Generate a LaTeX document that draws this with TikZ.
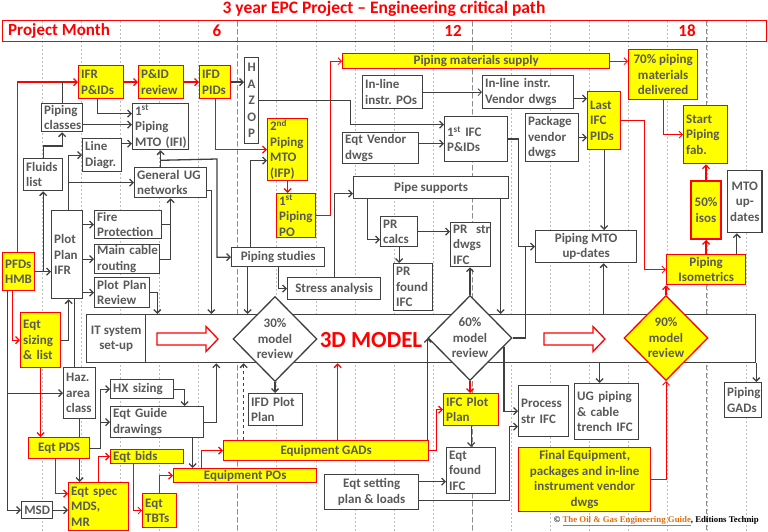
\documentclass[tikz,border=0pt]{standalone}
\usepackage{fontspec}
\setmainfont{Carlito}
\newfontfamily\creditfont{Liberation Serif}
\usetikzlibrary{arrows.meta,calc,shapes.geometric}
\definecolor{ink}{RGB}{89,89,89}
\definecolor{edge}{RGB}{64,64,64}
\definecolor{crit}{RGB}{255,0,0}
\definecolor{hilite}{RGB}{255,255,0}
\definecolor{gridsoft}{RGB}{190,190,190}
\definecolor{gridmonth}{RGB}{140,140,140}
\definecolor{orng}{RGB}{228,108,10}
\newcommand\boxfont{\fontsize{13}{15.5}\selectfont\bfseries\frenchspacing\hyphenpenalty=10000 }
\pgfdeclarelayer{grid}
\pgfdeclarelayer{band}
\pgfdeclarelayer{edges}
\pgfsetlayers{grid,band,edges,main}
\tikzset{
  box/.style={draw=edge, fill=white, line width=1.3pt, inner xsep=2.5pt, inner ysep=0pt, anchor=north west, font=\boxfont, text=ink, align=left},
  cbox/.style={box, align=center},
  hot/.style={box, fill=hilite, draw=crit},
  chot/.style={hot, align=center},
  gate/.style={diamond, draw=edge, fill=white, line width=1.3pt, minimum width=84pt, minimum height=85pt, inner sep=0pt, align=center, font=\boxfont, text=ink},
  flow/.style={draw=edge, line width=1.3pt, -{Straight Barb[length=3.5pt,width=7pt]}},
  link/.style={draw=edge, line width=1.3pt},
  thinflow/.style={flow, line width=0.8pt},
  critflow/.style={draw=crit, line width=1.3pt, -{Straight Barb[length=3.5pt,width=7pt]}},
  critthin/.style={critflow, line width=0.8pt},
  hollow/.style={draw=crit, fill=white, line width=1.3pt},
  gridline/.style={draw=gridsoft, line width=0.6pt, dash pattern=on 2pt off 2pt},
  monthline/.style={draw=gridmonth, line width=1.2pt, dash pattern=on 5pt off 3pt},
  monthlbl/.style={font=\fontsize{17}{20}\selectfont\bfseries, text=crit, inner sep=0pt},
}

\begin{document}
\begin{tikzpicture}[x=1pt, y=-1pt]
  % page frame, in reference pixels
  \useasboundingbox (0,0) rectangle (768,532);

  % month grid
  \begin{pgfonlayer}{grid}
    \foreach \k in {1,...,19} {\draw[gridline] ({3+39.1*\k},21) -- ({3+39.1*\k},532);}
    \foreach \k in {6,12,18} {\draw[monthline] ({3+39.1*\k},21) -- ({3+39.1*\k},532);}
  \end{pgfonlayer}

  \node[font=\fontsize{17.5}{20}\selectfont\bfseries, text=crit] (title) at (384,9) {3 year EPC Project – Engineering critical path};
  \node[draw=crit, line width=1.3pt, minimum width=764pt, minimum height=21pt, anchor=north west, inner sep=0pt] (monthbar) at (2,20) {};
  \node[monthlbl, anchor=west] (pmonth) at (8,31) {Project Month};
  \node[monthlbl] (m6) at (217,31) {6};
  \node[monthlbl] (m12) at (453,31) {12};
  \node[monthlbl] (m18) at (687,31) {18};

  % 3D model band
  \begin{pgfonlayer}{band}
    \node[box, minimum width=669pt, minimum height=48pt] (band) at (86,314) {};
  \end{pgfonlayer}
  \node[cbox, minimum width=59pt, minimum height=48pt] (itsys) at (86,314) {IT system\\set-up};
  \node[font=\fontsize{23}{26}\selectfont\bfseries, text=crit] (modeltxt) at (371,340) {3D MODEL};
  \draw[hollow] (157,333) -- (206,333) -- (206,326.5) -- (218,339) -- (206,351.5) -- (206,345) -- (157,345) -- cycle;
  \draw[hollow] (544,333) -- (593,333) -- (593,326.5) -- (605,339) -- (593,351.5) -- (593,345) -- (544,345) -- cycle;
  \node[gate] (d30) at (275,339) {30\%\\model\\review};
  \node[gate] (d60) at (470,338) {60\%\\model\\review};
  \node[gate, fill=hilite, draw=crit] (d90) at (666,338) {90\%\\model\\review};

  % top rows
  \node[hot, text width=40pt, minimum height=33pt] (ifrpid) at (78,65) {IFR\\P\&IDs};
  \node[hot, text width=40pt, minimum height=33pt] (pidrev) at (138,65) {P\&ID\\review};
  \node[hot, text width=26pt, minimum height=33pt] (ifdpid) at (199,65) {IFD\\PIDs};
  \node[cbox, minimum width=14pt, minimum height=86pt, inner xsep=0pt] (hazop) at (244,57) {H\\[1pt]A\\[1pt]Z\\[1pt]O\\[1pt]P};
  \node[box, text width=36pt, minimum height=28pt] (pipcls) at (41,103) {Piping\\classes};
  \node[box, text width=51pt, minimum height=46pt] (mto1) at (132,103) {1\textsuperscript{st}\\Piping\\MTO~(IFI)};
  \node[box, text width=34pt, minimum height=33pt] (linediag) at (82,138) {Line\\Diagr.};
  \node[box, text width=34pt, minimum height=32pt] (fluids) at (23,158) {Fluids\\list};
  \node[box, text width=67pt, minimum height=30pt] (ugnet) at (134,167) {General~UG\\networks};
  \node[box, text width=26pt, minimum height=88pt] (plotplan) at (51,210) {Plot\\Plan\\IFR};
  \node[box, text width=62pt, minimum height=28pt] (fire) at (94,210) {Fire\\Protection};
  \node[box, text width=60pt, minimum height=29pt] (cable) at (94,244) {Main~cable\\routing};
  \node[box, text width=50pt, minimum height=30pt] (ppreview) at (94,277) {Plot~Plan\\Review};
  \node[hot, text width=27pt, minimum height=38pt] (pfd) at (2,252) {PFDs\\HMB};
  \node[hot, text width=35pt, minimum height=55pt] (eqsize) at (20,312) {Eqt\\sizing\\\&~list};

  \node[hot, text width=35pt, minimum height=62pt] (mto2) at (267,118) {2\textsuperscript{nd}\\Piping\\MTO\\(IFP)};
  \node[hot, text width=34pt, minimum height=44pt] (po1) at (276,193) {1\textsuperscript{st}\\Piping\\PO};
  \node[chot, minimum width=267pt, minimum height=15pt] (pmsupply) at (342,53) {Piping materials supply};
  \node[box, text width=55pt, minimum height=33pt] (inlinepo) at (362,75) {In-line\\instr.~POs};
  \node[box, text width=86pt, minimum height=33pt] (inlinevd) at (482,75) {In-line~instr.\\Vendor~dwgs};
  \node[box, text width=58pt, minimum height=45pt] (ifc1) at (444,116) {1\textsuperscript{st}~IFC\\P\&IDs};
  \node[box, text width=71pt, minimum height=31pt] (eqvend) at (342,132) {Eqt~Vendor\\dwgs};
  \node[chot, minimum width=69pt, minimum height=50pt] (m70) at (628,49) {70\% piping\\materials\\delivered};
  \node[hot, text width=28pt, minimum height=58pt] (lastifc) at (587,91) {Last\\IFC\\PIDs};
  \node[box, text width=48pt, minimum height=48pt] (pkgvend) at (525,113) {Package\\vendor\\dwgs};
  \node[hot, text width=39pt, minimum height=58pt] (startfab) at (683,105) {Start\\Piping\\fab.};
  \node[cbox, minimum width=34pt, minimum height=62pt] (mtoupd) at (727,170) {MTO\\up-\\dates};
  \node[chot, minimum width=30pt, minimum height=58pt, line width=2pt] (iso50) at (690,180) {50\%\\isos};
  \node[chot, minimum width=79pt, minimum height=30pt] (pipiso) at (666,254) {Piping\\Isometrics};
  \node[cbox, minimum width=101pt, minimum height=32pt] (pmtoupd) at (535,230) {Piping MTO\\up-dates};
  \node[cbox, minimum width=155pt, minimum height=22pt] (pipesup) at (353,176) {Pipe supports};
  \node[box, text width=32pt, minimum height=30pt] (prcalc) at (380,216) {PR\\calcs};
  \node[box, text width=35pt, minimum height=44pt] (prstr) at (450,222) {PR~~str\\dwgs\\IFC};
  \node[box, text width=34pt, minimum height=47pt] (prfound) at (393,263) {PR\\found\\IFC};
  \node[cbox, minimum width=93pt, minimum height=19pt] (pipstud) at (231,247) {Piping studies};
  \node[cbox, minimum width=93pt, minimum height=22pt] (stress) at (287,277) {Stress analysis};

  % below the model
  \node[box, text width=49pt, minimum height=32pt] (ifdplot) at (248,393) {IFD~Plot\\Plan};
  \node[hot, text width=50pt, minimum height=32pt] (ifcplot) at (443,393) {IFC~Plot\\Plan};
  \node[box, text width=44pt, minimum height=46pt] (eqfound) at (446,447) {Eqt\\found\\IFC};
  \node[cbox, minimum width=94pt, minimum height=35pt] (eqset) at (324,474) {Eqt setting\\plan \& loads};
  \node[box, text width=45pt, minimum height=51pt] (procstr) at (518,385) {Process\\str~IFC};
  \node[box, text width=59pt, minimum height=56pt] (ugpipe) at (574,383) {UG~piping\\\&~cable\\trench~IFC};
  \node[box, text width=32pt, minimum height=35pt] (pipgad) at (724,382) {Piping\\GADs};
  \node[chot, minimum width=132pt, minimum height=64pt] (finaleq) at (518,447) {Final Equipment,\\packages and in-line\\instrument vendor\\dwgs};
  \node[chot, minimum width=205pt, minimum height=20pt] (eqgad) at (223,440) {Equipment GADs};
  \node[chot, minimum width=143pt, minimum height=14pt] (eqpo) at (173,468) {Equipment POs};
  \node[box, text width=27pt, minimum height=51pt] (haz) at (63,367) {Haz.\\area\\class};
  \node[box, text width=58pt, minimum height=19pt] (hx) at (110,379) {HX~sizing};
  \node[box, text width=88pt, minimum height=31pt] (eqguide) at (110,406) {Eqt~Guide\\drawings};
  \node[chot, minimum width=61pt, minimum height=21pt] (eqpds) at (28,437) {Eqt PDS};
  \node[hot, text width=68pt, minimum height=14pt] (eqbids) at (110,449) {Eqt~bids};
  \node[hot, text width=55pt, minimum height=48pt] (eqspec) at (68,482) {Eqt~spec\\MDS,\\MR};
  \node[cbox, minimum width=31pt, minimum height=17pt] (msd) at (21,501) {MSD};
  \node[hot, text width=29pt, minimum height=34pt] (eqtbt) at (142,493) {Eqt\\TBTs};

  \node[font=\fontsize{8.8}{10}\selectfont\creditfont\bfseries, anchor=east, inner sep=0pt] (credit) at (759,521) {© \textcolor{orng}{\underline{The Oil \& Gas Engineering Guide}}, Editions Technip};

  \begin{pgfonlayer}{edges}
    % critical path
    \draw[critflow] ([xshift=-1pt]pfd.north) |- (ifrpid.west);
    \draw[critflow] (ifrpid) -- (pidrev);
    \draw[critflow] (pidrev) -- (ifdpid);
    \draw[critflow] (ifdpid.south) |- (mto2.west);
    \draw[critflow] (mto2.south) -- (mto2.south |- po1.north);
    \draw[critthin] (po1.east) -- ++(14,0) |- (pmsupply.west);
    \draw[critthin] (pmsupply.east) -- (pmsupply.east -| m70.west);
    \draw[critthin] (m70.south) |- (startfab.west);
    \draw[critthin] (lastifc.east) -- ++(23,0) |- (pipiso.west);
    \draw[critflow] (iso50.south |- pipiso.north) -- (iso50.south);
    \draw[critflow] (iso50.north) -- (iso50.north |- startfab.south);
    \draw[critflow] (d90.north) -- (d90.north |- pipiso.south);
    \draw[critthin] (finaleq.east) -| (d90.south);
    \draw[critflow] ([xshift=-6pt]pfd.south) |- (eqsize.west);
    \draw[critflow] (eqsize.south) -- (eqsize.south |- eqpds.north);
    \draw[critflow] ([xshift=-3.5pt]eqpds.south) |- ([yshift=13pt]eqspec.west);
    \draw[critflow] (eqspec.north) |- (eqbids.west);
    \draw[critthin] ([xshift=-13.5pt]eqbids.south) |- (eqtbt.west);
    \draw[critflow] (eqtbt.north) |- (eqpo.west);
    \draw[critflow] ([xshift=-43.5pt]eqpo.north) |- (eqgad.west);
    \draw[critflow] ([xshift=11.5pt]eqgad.north) -- ([xshift=11.5pt]eqgad.north |- band.south);
    \draw[critflow] (eqgad.east) -- ++(7,0) |- (ifcplot.west);
    \draw[critflow] (d60.south) -- (d60.south |- ifcplot.north);

    % other links
    \draw[link] (pipcls.north) -- (pipcls.north |- ifrpid.west);
    \draw[flow] ([xshift=-3.5pt]ifrpid.south) |- ([yshift=13pt]mto1.west);
    \draw[flow] ([yshift=-7pt]pipcls.east) -- ([yshift=-7pt]pipcls.east -| mto1.west);
    \draw[flow] ([yshift=11.5pt]linediag.east) -- ([yshift=11.5pt]linediag.east -| mto1.west);
    \draw[flow] (fluids.north) -- ++(0,-12) -| (pipcls.south);
    \draw[flow] ([xshift=1.5pt]plotplan.north) |- (linediag.west);
    \draw[flow] ([xshift=1.5pt]plotplan.north |- ugnet.west) -- (ugnet.west);
    \draw[flow] (mto1.south |- ugnet.north) -- (mto1.south);
    \coordinate (studyjoin) at (217,159);
    \draw[flow] ([yshift=-10pt]mto1.south) -- (studyjoin) |- (pipstud.west);
    \draw[flow] ([yshift=-8pt]ugnet.east) -- ++(4,0) -- ([xshift=4pt]ugnet.east |- band.north);
    \draw[flow] (fire.east) -| (ugnet.south);
    \draw[link] (cable.east) -| (fire.east -| ugnet.south);
    \draw[flow] (plotplan.east |- fire.west) -- (fire.west);
    \draw[flow] (plotplan.east |- cable.west) -- (cable.west);
    \draw[flow] (plotplan.east |- ppreview.west) -- (ppreview.west);
    \draw[flow] (ppreview.east) -| ([xshift=7pt]ppreview.east |- band.north);
    \draw[flow] (pfd.east) -- (pfd.east -| plotplan.west);
    \draw[flow] (fluids.south |- pfd.east) -- (fluids.south);
    \draw[flow] ([xshift=-11pt]pfd.south) |- (msd.west);
    \draw[flow] ([xshift=-11pt]pfd.south |- haz.west) -- (haz.west);
    \draw[flow] (eqsize.east) -| ([xshift=1.5pt]plotplan.south);
    \draw[link] ([xshift=7pt]plotplan.south) -- ([xshift=7pt]plotplan.south |- haz.north);
    \draw[flow] (haz.south) -- (haz.south |- eqspec.north);
    \draw[flow] (msd.east) -- (msd.east -| eqspec.west);
    \draw[flow] (eqpds.east) -- ++(10,0) |- (hx.west);
    \draw[flow] ([xshift=10pt]eqpds.east |- eqguide.west) -- (eqguide.west);
    \draw[flow] (hx.east) -| ([xshift=27.5pt]eqguide.north);
    \draw[flow] ([xshift=35.5pt]eqguide.south) -- ([xshift=35.5pt]eqguide.south |- eqpo.north);
    \draw[flow] (eqguide.east) -| ([xshift=12pt]eqguide.east |- band.south);
    \draw[flow, dashed] ([xshift=-82.5pt]eqgad.north) -- ([xshift=-82.5pt]eqgad.north |- band.south);
    \draw[flow] (d30.south) -- (d30.south |- ifdplot.north);
    \draw[flow] ([xshift=-27.5pt]pipstud.north) |- ([yshift=-11pt]mto2.west);
    \draw[flow] ([xshift=-30.5pt]pipstud.south) -- ([xshift=-30.5pt]pipstud.south |- band.north);
    \draw[flow] (pipstud.south) |- (stress.west);
    \draw[flow] (stress.north) |- ([yshift=-6pt]pipesup.west);
    \draw[flow] ([xshift=-63.5pt]pipesup.south) |- ([yshift=-8pt]prcalc.west);
    \draw[flow] (prcalc.east) -- (prcalc.east -| prstr.west);
    \draw[flow] (prcalc.south) -- (prcalc.south |- prfound.north);
    \draw[flow] (d60.north) -- (d60.north |- prstr.south);
    \draw[flow] ([xshift=69.5pt]pipesup.south) -- ([xshift=69.5pt]pipesup.south |- band.north);
    \draw[flow] (hazop.east) -- ++(91,0) |- ([yshift=14.5pt]ifc1.west);
    \draw[flow] (ifdpid.east) -- (ifdpid.east -| hazop.west);
    \draw[thinflow] (inlinepo) -- (inlinevd);
    \draw[flow] ([yshift=4.5pt]eqvend.east) -- ([yshift=4.5pt]eqvend.east -| ifc1.west);
    \draw[flow] ([yshift=-6.5pt]inlinevd.east) -- ([yshift=-6.5pt]inlinevd.east -| lastifc.west);
    \draw[flow] (pkgvend.east) -- (pkgvend.east -| lastifc.west);
    \draw[flow] (lastifc.south) -- (lastifc.south |- pmtoupd.north);
    \draw[flow] (ifc1.east) -- ++(10,0) |- (pmtoupd.west);
    \draw[link] (d60.east) -- ++(13,0) -- ([xshift=13pt]d60.east |- pmtoupd.west);
    \draw[flow] ([xshift=17.5pt]pmtoupd.south |- band.north) -- ([xshift=17.5pt]pmtoupd.south);
    \draw[flow] ([xshift=-1.5pt]eqgad.north east) -- ([xshift=-1.5pt]eqgad.north east |- d60.west);
    \draw[flow] ($(d60.east)!0.2!(d60.south)$) |- (procstr.west);
    \draw[flow] ([yshift=10.5pt]eqset.east) -- ([yshift=10.5pt]eqset.east -| eqfound.west);
    \draw[flow] ([yshift=-8.5pt]eqset.east) -- ++(90,0) |- ([yshift=-15.5pt]procstr.west);
    \draw[flow] (ifcplot.south) -- (ifcplot.south |- eqfound.north);
    \draw[flow] ([xshift=-7pt]ugpipe.north |- band.south) -- ([xshift=-7pt]ugpipe.north);
    \draw[flow] (band.south east) -- (band.south east |- pipgad.north);
    \draw[flow] ([xshift=-8pt]mtoupd.south |- pipiso.north) -- ([xshift=-8pt]mtoupd.south);
  \end{pgfonlayer}
\end{tikzpicture}
\end{document}
